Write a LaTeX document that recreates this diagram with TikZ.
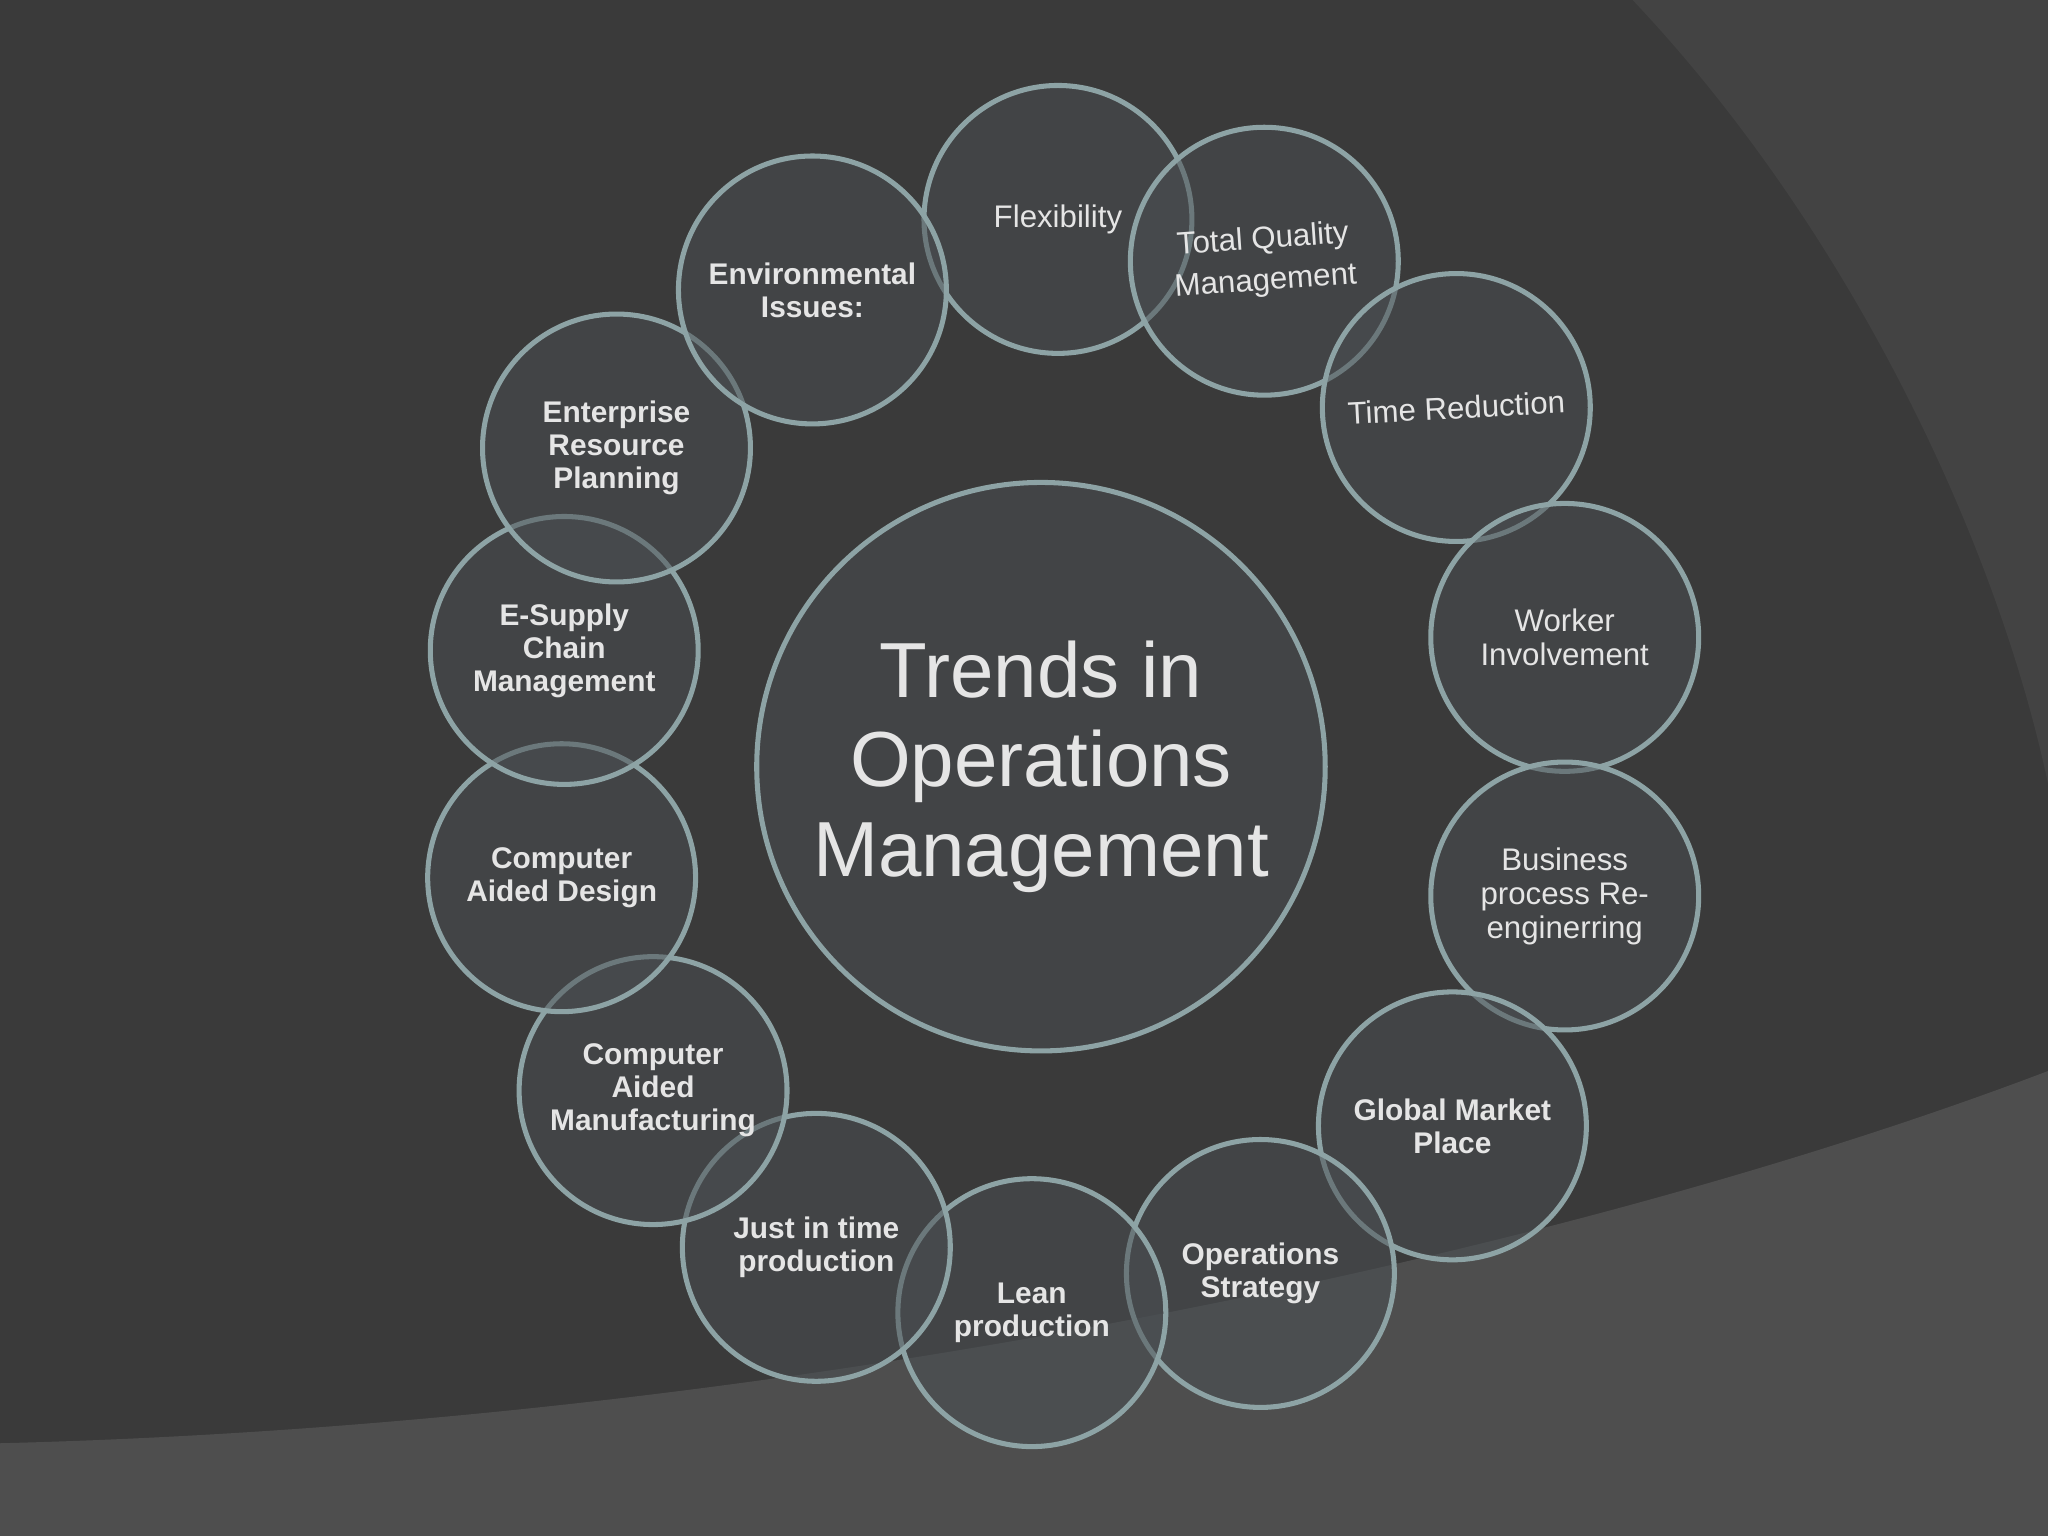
\documentclass[tikz,border=0pt]{standalone}
\usepackage{fontspec}
\setmainfont{Liberation Sans}
\usetikzlibrary{positioning}
\definecolor{bgdark}{HTML}{3A3A3A}
\definecolor{bgmid}{HTML}{434343}
\definecolor{bglight}{HTML}{4E4E4E}
\definecolor{rim}{HTML}{8DA3A5}
\definecolor{bubble}{HTML}{4A4F53}
\begin{document}
\begin{tikzpicture}[x=0.01cm,y=-0.01cm,
bubblestyle/.style={
  circle,
  draw=rim,
  line width=1.1pt,
  fill=bubble,
  fill opacity=0.5,
  text opacity=1,
  minimum size=2.05cm,
  align=center,
  text=white!90!black,
  font=\fontsize{6.8}{7.4}\selectfont
  },
boldbubble/.style={
  bubblestyle,
  font=\bfseries\fontsize{6.5}{7.2}\selectfont
  },
hub/.style={
  bubblestyle,
  minimum size=4.35cm,
  font=\fontsize{17}{19.5}\selectfont
  }
]
% background
\fill[bgdark] (0,0) rectangle (1568,1176);
\fill[bgmid] (1250,0) .. controls (1420,180) and (1530,420) .. (1568,600) -- (1568,0) -- cycle;
\fill[bglight] (0,1105) .. controls (600,1090) and (1200,960) .. (1568,820) -- (1568,1176) -- (0,1176) -- cycle;
\useasboundingbox (0,0) rectangle (1568,1176);

\node[hub] (center) at (797,587) {Trends in\\Operations\\Management};

\node[bubblestyle] (flex) at (810,168) {Flexibility};
\node[bubblestyle] (tqm) at (968,200) {\rotatebox{4}{\shortstack{Total Quality\\Management}}};
\node[bubblestyle] (time) at (1115,312) {\rotatebox{3}{Time Reduction}};
\node[bubblestyle] (worker) at (1198,488) {Worker\\Involvement};
\node[bubblestyle] (bpr) at (1198,686) {Business\\process Re-\\enginerring};
\node[boldbubble] (global) at (1112,862) {Global Market\\Place};
\node[boldbubble] (strat) at (965,975) {Operations\\Strategy};
\node[boldbubble] (lean) at (790,1005) {Lean\\production};
\node[boldbubble] (jit) at (625,955) {Just in time\\production};
\node[boldbubble] (cam) at (500,835) {Computer\\Aided\\Manufacturing};
\node[boldbubble] (cad) at (430,672) {Computer\\Aided Design};
\node[boldbubble] (esupply) at (432,498) {E-Supply\\Chain\\Management};
\node[boldbubble] (erp) at (472,343) {Enterprise\\Resource\\Planning};
\node[boldbubble] (env) at (622,222) {Environmental\\Issues:};

\end{tikzpicture}
\end{document}
